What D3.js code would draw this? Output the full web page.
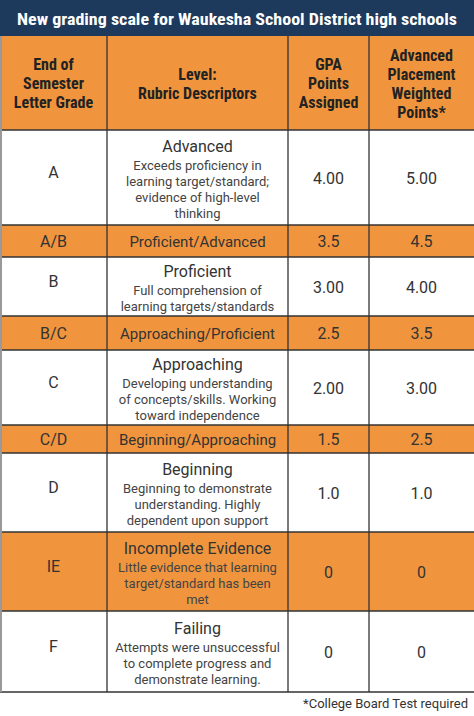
<!DOCTYPE html>
<html><head><meta charset="utf-8">
<script src="https://cdn.jsdelivr.net/npm/d3@7"></script>
<style>body{margin:0;background:#fff}</style>
</head><body><div id="chart"></div>
<script>
var title = "New grading scale for Waukesha School District high schools";
var headers = [["End of","Semester","Letter Grade"],["Level:","Rubric Descriptors"],["GPA","Points","Assigned"],["Advanced","Placement","Weighted","Points*"]];
var grades = ["A","A/B","B","B/C","C","C/D","D","IE","F"];
var levels = ["Advanced","Proficient/Advanced","Proficient","Approaching/Proficient","Approaching","Beginning/Approaching","Beginning","Incomplete Evidence","Failing"];
var descriptors = [
  ["Exceeds proficiency in","learning target/standard;","evidence of high-level","thinking"],
  [],
  ["Full comprehension of","learning targets/standards"],
  [],
  ["Developing understanding","of concepts/skills. Working","toward independence"],
  [],
  ["Beginning to demonstrate","understanding. Highly","dependent upon support"],
  ["Little evidence that learning","target/standard has been","met"],
  ["Attempts were unsuccessful","to complete progress and","demonstrate learning."]
];
var gpa = ["4.00","3.5","3.00","2.5","2.00","1.5","1.0","0","0"];
var apPoints = ["5.00","4.5","4.00","3.5","3.00","2.5","1.0","0","0"];
var orangeRows = ["A/B","B/C","C/D","IE"];
var footnote = "*College Board Test required";

// layout
var W = 474, H = 716;
var colEdges = [0, 107, 288, 369, 474];
var rowEdges = [130, 225, 257, 316, 350, 425, 453, 532, 611, 692];
var orange = "#f0953d", navy = "#1d3a5c";
var bodyFont = "Roboto, 'Liberation Sans', sans-serif";
var headFont = "'Liberation Sans Narrow', 'Roboto Condensed', 'Liberation Sans', sans-serif";

var svg = d3.select("#chart").append("svg").attr("width", W).attr("height", H);

svg.append("rect").attr("width", W).attr("height", 36).attr("fill", navy);
svg.append("text").attr("x", W/2).attr("y", 25).attr("text-anchor", "middle")
  .attr("fill", "#fff").attr("font-family", headFont).attr("font-weight", "bold")
  .attr("font-size", 17).attr("textLength", 440).attr("lengthAdjust", "spacingAndGlyphs").text(title);

// header row
svg.append("rect").attr("y", 36).attr("width", W).attr("height", 94).attr("fill", orange);
headers.forEach(function(lines, i) {
  var cx = (colEdges[i] + colEdges[i+1]) / 2;
  var lh = 19, y0 = 83 - (lines.length - 1) * lh / 2 + 6;
  var t = svg.append("text").attr("text-anchor", "middle").attr("font-family", headFont)
    .attr("font-weight", "bold").attr("font-size", 16).attr("fill", "#222");
  lines.forEach(function(l, j) { t.append("tspan").attr("x", cx).attr("y", y0 + j*lh).text(l); });
});

var rows = svg.selectAll("g.row").data(grades).enter().append("g").attr("class", "row");
rows.append("rect").attr("x", 0).attr("width", W)
  .attr("y", function(d, i) { return rowEdges[i]; })
  .attr("height", function(d, i) { return rowEdges[i+1] - rowEdges[i]; })
  .attr("fill", function(d) { return orangeRows.indexOf(d) >= 0 ? orange : "#fff"; });

rows.each(function(d, i) {
  var g = d3.select(this);
  var top = rowEdges[i], bot = rowEdges[i+1], mid = (top + bot) / 2;
  var desc = descriptors[i];
  var cMid = function(c) { return (colEdges[c] + colEdges[c+1]) / 2; };
  var yOff = desc.length ? -6 : 0;
  g.append("text").attr("x", cMid(0)).attr("y", mid + yOff + 6).attr("text-anchor", "middle")
    .attr("font-family", bodyFont).attr("font-size", 16).attr("fill", "#333").text(d);
  g.append("text").attr("x", cMid(2)).attr("y", mid + 6).attr("text-anchor", "middle")
    .attr("font-family", bodyFont).attr("font-size", 16).attr("fill", "#333").text(gpa[i]);
  g.append("text").attr("x", cMid(3)).attr("y", mid + 6).attr("text-anchor", "middle")
    .attr("font-family", bodyFont).attr("font-size", 16).attr("fill", "#333").text(apPoints[i]);
  var lh = 16, n = desc.length;
  var y0 = n ? mid - (n * lh + 20) / 2 + 16 : mid + 6;
  g.append("text").attr("x", cMid(1)).attr("y", y0).attr("text-anchor", "middle")
    .attr("font-family", bodyFont).attr("font-size", n ? 16 : 15).attr("fill", "#333").text(levels[i]);
  desc.forEach(function(l, j) {
    g.append("text").attr("x", cMid(1)).attr("y", y0 + 18 + j*lh).attr("text-anchor", "middle")
      .attr("font-family", bodyFont).attr("font-size", 13).attr("fill", "#444").text(l);
  });
});

// grid lines
var line = svg.append("g").attr("stroke", "#333").attr("stroke-width", 1.3);
[130].concat(rowEdges.slice(1)).forEach(function(y) {
  line.append("line").attr("x1", 0).attr("x2", W).attr("y1", y).attr("y2", y);
});
colEdges.slice(1, 4).forEach(function(x) {
  line.append("line").attr("x1", x).attr("x2", x).attr("y1", 36).attr("y2", rowEdges[rowEdges.length-1]);
});
svg.append("line").attr("x1", 1).attr("x2", 1).attr("y1", 36).attr("y2", 692).attr("stroke", "#999").attr("stroke-width", 2);

svg.append("text").attr("x", 468).attr("y", 708).attr("text-anchor", "end")
  .attr("font-family", bodyFont).attr("font-size", 13).attr("fill", "#333").text(footnote);
</script></body></html>
